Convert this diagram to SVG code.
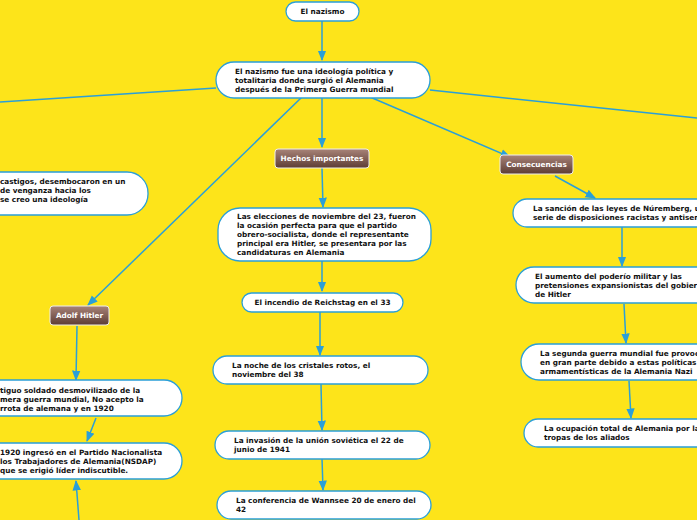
<svg xmlns="http://www.w3.org/2000/svg" width="697" height="520" viewBox="0 0 697 520">
<defs>
<marker id="ah" viewBox="0 0 10 10" refX="9" refY="5" markerWidth="7" markerHeight="7" orient="auto-start-reverse"><path d="M0,1 L10,5 L0,9 z" fill="#2a9fd8"/></marker>
<linearGradient id="brown" x1="0" y1="0" x2="0" y2="1"><stop offset="0" stop-color="#a88378"/><stop offset="1" stop-color="#5d3d35"/></linearGradient>
</defs>
<style>
.n{fill:#fff;stroke:#2a9fd8;stroke-width:1.3}
.b{fill:url(#brown);stroke:#eee;stroke-width:1}
.t{font-family:"DejaVu Sans",sans-serif;font-weight:bold;font-size:7.3px;fill:#111}
.w{font-family:"DejaVu Sans",sans-serif;font-weight:bold;font-size:7.3px;fill:#fff}
.c{fill:none;stroke:#2a9fd8;stroke-width:1.5}
</style>
<rect width="697" height="520" fill="#fde41a"/>
<g id="connectors">
<path class="c" d="M322,21 L322,60" marker-end="url(#ah)"/>
<path class="c" d="M216,88 L0,102"/>
<path class="c" d="M430,90 L697,118"/>
<path class="c" d="M302,97 L88,305" marker-end="url(#ah)"/>
<path class="c" d="M322,98 L322,147" marker-end="url(#ah)"/>
<path class="c" d="M370,97 L510,157" marker-end="url(#ah)"/>
<path class="c" d="M322,168 L323,207" marker-end="url(#ah)"/>
<path class="c" d="M322,261 L322,291" marker-end="url(#ah)"/>
<path class="c" d="M320,312 L320,355" marker-end="url(#ah)"/>
<path class="c" d="M321,384 L322,430" marker-end="url(#ah)"/>
<path class="c" d="M322,458 L323,490" marker-end="url(#ah)"/>
<path class="c" d="M555,176 L595,198" marker-end="url(#ah)"/>
<path class="c" d="M622,227 L622,266" marker-end="url(#ah)"/>
<path class="c" d="M624,304 L626,343" marker-end="url(#ah)"/>
<path class="c" d="M629,381 L631,418" marker-end="url(#ah)"/>
<path class="c" d="M77,326 L76,380" marker-end="url(#ah)"/>
<path class="c" d="M96,418 L87,441" marker-end="url(#ah)"/>
<path class="c" d="M76,481 L79,520" marker-start="url(#ah)"/>
</g>
<g id="n-title"><rect class="n" x="286" y="2" width="73" height="19" rx="9.5"/><text class="t" x="322.5" y="14" text-anchor="middle">El nazismo</text></g>
<g id="n-main"><rect class="n" x="216" y="62" width="214" height="36" rx="18"/>
<text class="t" x="235" y="74">El nazismo fue una ideología política y</text>
<text class="t" x="235" y="83">totalitaria donde surgió el Alemania</text>
<text class="t" x="235" y="92">después de la Primera Guerra mundial</text></g>
<g id="n-left"><rect class="n" x="-40" y="172" width="188" height="43" rx="21"/>
<text class="t" x="0" y="184">castigos, desembocaron en un</text>
<text class="t" x="0" y="193">de venganza hacia los</text>
<text class="t" x="0" y="202">se creo una ideología</text></g>
<g id="n-hechos"><rect class="b" x="275" y="149" width="94" height="19" rx="3"/><text class="w" x="322" y="161" text-anchor="middle">Hechos importantes</text></g>
<g id="n-conse"><rect class="b" x="500" y="155" width="73" height="19" rx="3"/><text class="w" x="536.5" y="167" text-anchor="middle">Consecuencias</text></g>
<g id="n-hitler"><rect class="b" x="50" y="306" width="59" height="19" rx="3"/><text class="w" x="79.5" y="318" text-anchor="middle">Adolf Hitler</text></g>
<g id="n-elec"><rect class="n" x="218" y="208" width="213" height="53" rx="22"/>
<text class="t" x="237" y="219">Las elecciones de noviembre del 23, fueron</text>
<text class="t" x="237" y="228">la ocasión perfecta para que el partido</text>
<text class="t" x="237" y="237">obrero-socialista, donde el representante</text>
<text class="t" x="237" y="246">principal era Hitler, se presentara por las</text>
<text class="t" x="237" y="255">candidaturas en Alemania</text></g>
<g id="n-reich"><rect class="n" x="242" y="293" width="161" height="19" rx="9.5"/><text class="t" x="322.5" y="305" text-anchor="middle">El incendio de Reichstag en el 33</text></g>
<g id="n-noche"><rect class="n" x="213" y="356" width="215" height="28" rx="14"/>
<text class="t" x="232" y="368">La noche de los cristales rotos, el</text>
<text class="t" x="232" y="377">noviembre del 38</text></g>
<g id="n-inva"><rect class="n" x="215" y="431" width="215" height="28" rx="14"/>
<text class="t" x="234" y="443">La invasión de la unión soviética el 22 de</text>
<text class="t" x="234" y="452">junio de 1941</text></g>
<g id="n-wann"><rect class="n" x="217" y="491" width="214" height="28" rx="14"/>
<text class="t" x="236" y="503">La conferencia de Wannsee 20 de enero del</text>
<text class="t" x="236" y="512">42</text></g>
<g id="n-nur"><rect class="n" x="513" y="199" width="220" height="28" rx="14"/>
<text class="t" x="533" y="211">La sanción de las leyes de Núremberg, una</text>
<text class="t" x="533" y="220">serie de disposiciones racistas y antisemitas</text></g>
<g id="n-aum"><rect class="n" x="516" y="267" width="220" height="36" rx="18"/>
<text class="t" x="535" y="279">El aumento del poderío militar y las</text>
<text class="t" x="535" y="288">pretensiones expansionistas del gobierno</text>
<text class="t" x="535" y="297">de Hitler</text></g>
<g id="n-seg"><rect class="n" x="521" y="344" width="220" height="36" rx="18"/>
<text class="t" x="540" y="356">La segunda guerra mundial fue provocada</text>
<text class="t" x="540" y="365">en gran parte debido a estas políticas</text>
<text class="t" x="540" y="374">armamentísticas de la Alemania Nazi</text></g>
<g id="n-ocu"><rect class="n" x="524" y="419" width="220" height="28" rx="14"/>
<text class="t" x="544" y="431">La ocupación total de Alemania por las</text>
<text class="t" x="544" y="440">tropas de los aliados</text></g>
<g id="n-sold"><rect class="n" x="-40" y="380" width="222" height="36" rx="18"/>
<text class="t" x="0" y="393">tiguo soldado desmovilizado de la</text>
<text class="t" x="0" y="402">mera guerra mundial, No acepto la</text>
<text class="t" x="0" y="411">rrota de alemana y en 1920</text></g>
<g id="n-nsdap"><rect class="n" x="-40" y="443" width="222" height="36" rx="18"/>
<text class="t" x="0" y="455">1920 ingresó en el Partido Nacionalista</text>
<text class="t" x="0" y="464">los Trabajadores de Alemania(NSDAP)</text>
<text class="t" x="0" y="473">que se erigió líder indiscutible.</text></g>
</svg>
